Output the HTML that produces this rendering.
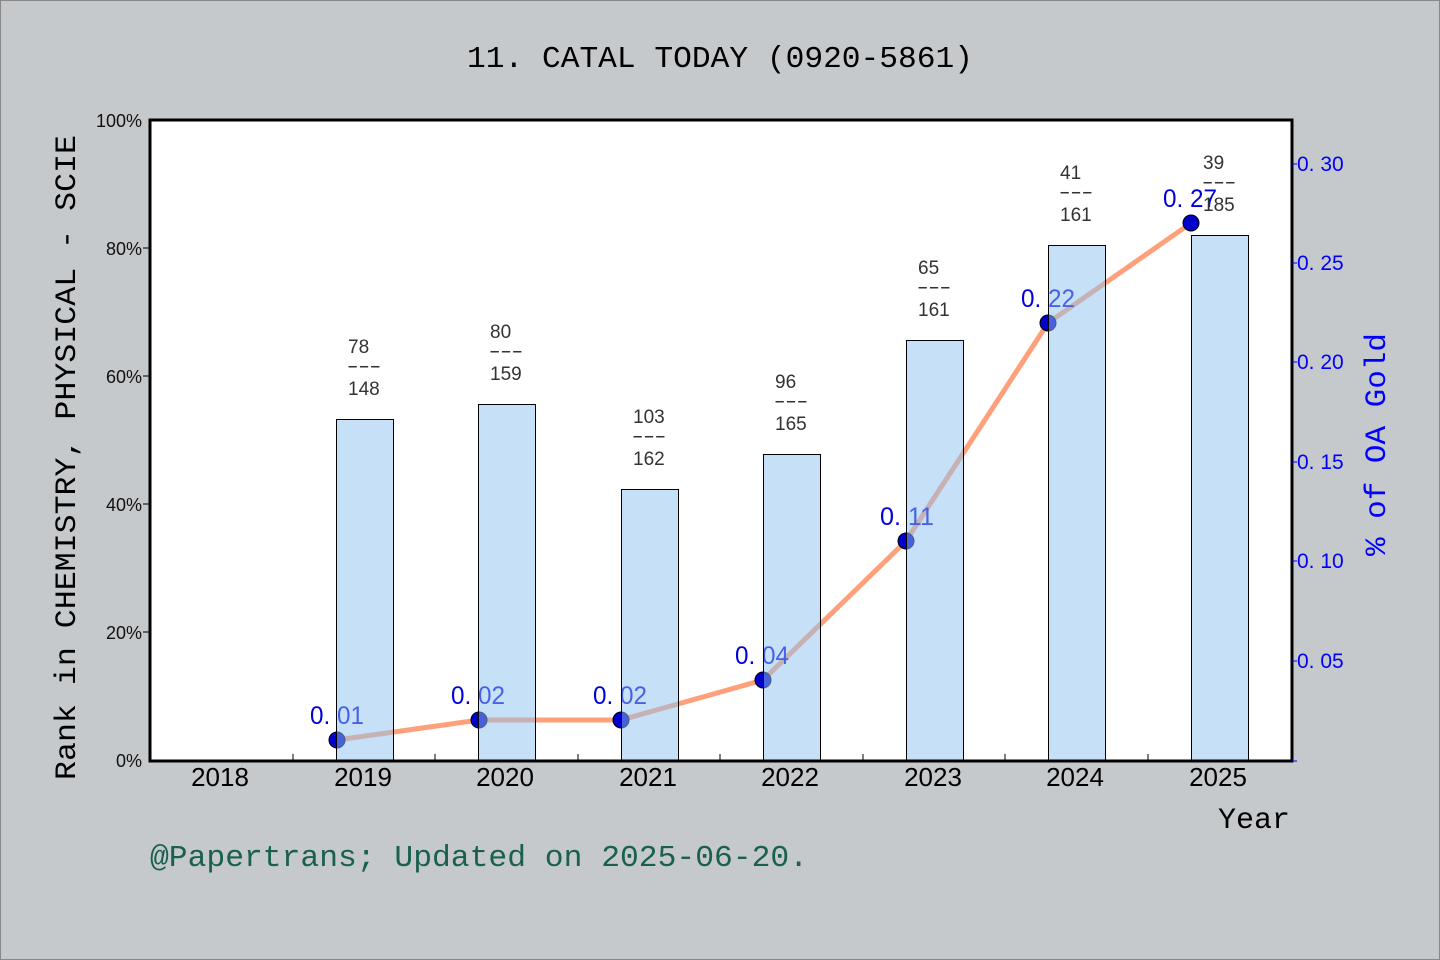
<!DOCTYPE html>
<html><head><meta charset="utf-8"><style>
html,body{margin:0;padding:0;background:#c5c9cc;}
svg{display:block}
text{font-family:"Liberation Mono",monospace;}
.s{font-family:"Liberation Sans",sans-serif;}
</style></head><body>
<svg width="1440" height="960" viewBox="0 0 1440 960" xmlns="http://www.w3.org/2000/svg">
<rect x="0.5" y="0.5" width="1439" height="959" fill="#c5c9cc" stroke="#888" stroke-width="1"/>
<text x="467" y="67" font-size="31" textLength="506" lengthAdjust="spacingAndGlyphs">11. CATAL TODAY (0920-5861)</text>
<rect x="150" y="120" width="1142" height="641" fill="#fff"/>
<polyline points="337,740 479,720 621,720 763,680 906,541 1048,323 1191,223" fill="none" stroke="#ffa07a" stroke-width="5"/>
<g fill="#0000cc" stroke="#000" stroke-width="1">
<circle cx="337" cy="740" r="8"/><circle cx="479" cy="720" r="8"/><circle cx="621" cy="720" r="8"/><circle cx="763" cy="680" r="8"/><circle cx="906" cy="541" r="8"/><circle cx="1048" cy="323" r="8"/><circle cx="1191" cy="223" r="8"/>
</g>
<g fill="#0000dd" font-size="25">
<text class="s" x="310" y="724" textLength="54" lengthAdjust="spacingAndGlyphs">0. 01</text>
<text class="s" x="451" y="704" textLength="54" lengthAdjust="spacingAndGlyphs">0. 02</text>
<text class="s" x="593" y="704" textLength="54" lengthAdjust="spacingAndGlyphs">0. 02</text>
<text class="s" x="735" y="664" textLength="54" lengthAdjust="spacingAndGlyphs">0. 04</text>
<text class="s" x="880" y="525" textLength="54" lengthAdjust="spacingAndGlyphs">0. 11</text>
<text class="s" x="1021" y="307" textLength="54" lengthAdjust="spacingAndGlyphs">0. 22</text>
<text class="s" x="1163" y="207" textLength="54" lengthAdjust="spacingAndGlyphs">0. 27</text>
</g>
<g fill="#8ec1ef" fill-opacity="0.5" stroke="#000" stroke-width="1">
<rect x="336.5" y="419.5" width="57" height="341"/>
<rect x="478.5" y="404.5" width="57" height="356"/>
<rect x="621.5" y="489.5" width="57" height="271"/>
<rect x="763.5" y="454.5" width="57" height="306"/>
<rect x="906.5" y="340.5" width="57" height="420"/>
<rect x="1048.5" y="245.5" width="57" height="515"/>
<rect x="1191.5" y="235.5" width="57" height="525"/>
</g>
<g fill="#333" font-size="19">
<text class="s" x="348" y="353">78</text><text class="s" x="347" y="372" textLength="34" lengthAdjust="spacingAndGlyphs">---</text><text class="s" x="348" y="395">148</text>
<text class="s" x="490" y="338">80</text><text class="s" x="489" y="357" textLength="34" lengthAdjust="spacingAndGlyphs">---</text><text class="s" x="490" y="380">159</text>
<text class="s" x="633" y="423">103</text><text class="s" x="632" y="442" textLength="34" lengthAdjust="spacingAndGlyphs">---</text><text class="s" x="633" y="465">162</text>
<text class="s" x="775" y="388">96</text><text class="s" x="774" y="407" textLength="34" lengthAdjust="spacingAndGlyphs">---</text><text class="s" x="775" y="430">165</text>
<text class="s" x="918" y="274">65</text><text class="s" x="917" y="293" textLength="34" lengthAdjust="spacingAndGlyphs">---</text><text class="s" x="918" y="316">161</text>
<text class="s" x="1060" y="179">41</text><text class="s" x="1059" y="198" textLength="34" lengthAdjust="spacingAndGlyphs">---</text><text class="s" x="1060" y="221">161</text>
<text class="s" x="1203" y="169">39</text><text class="s" x="1202" y="188" textLength="34" lengthAdjust="spacingAndGlyphs">---</text><text class="s" x="1203" y="211">185</text>
</g>
<rect x="150" y="120" width="1142" height="641" fill="none" stroke="#000" stroke-width="3"/>
<g stroke="#000" stroke-width="1">
<line x1="143" y1="248" x2="150" y2="248"/><line x1="143" y1="376" x2="150" y2="376"/><line x1="143" y1="504" x2="150" y2="504"/><line x1="143" y1="632" x2="150" y2="632"/>
<line x1="293" y1="754" x2="293" y2="761"/><line x1="435" y1="754" x2="435" y2="761"/><line x1="578" y1="754" x2="578" y2="761"/><line x1="720" y1="754" x2="720" y2="761"/><line x1="863" y1="754" x2="863" y2="761"/><line x1="1005" y1="754" x2="1005" y2="761"/><line x1="1148" y1="754" x2="1148" y2="761"/>
</g>
<g stroke="#0000ff" stroke-width="1">
<line x1="1292" y1="164" x2="1297" y2="164"/><line x1="1292" y1="263" x2="1297" y2="263"/><line x1="1292" y1="362" x2="1297" y2="362"/><line x1="1292" y1="462" x2="1297" y2="462"/><line x1="1292" y1="561" x2="1297" y2="561"/><line x1="1292" y1="661" x2="1297" y2="661"/><line x1="1292" y1="761" x2="1297" y2="761"/>
</g>
<g font-size="18" fill="#111" text-anchor="end">
<text class="s" x="142" y="127">100%</text><text class="s" x="142" y="255">80%</text><text class="s" x="142" y="383">60%</text><text class="s" x="142" y="511">40%</text><text class="s" x="142" y="639">20%</text><text class="s" x="142" y="767">0%</text>
</g>
<g font-size="21" fill="#0000ff">
<text class="s" x="1297" y="171">0. 30</text><text class="s" x="1297" y="270">0. 25</text><text class="s" x="1297" y="369">0. 20</text><text class="s" x="1297" y="469">0. 15</text><text class="s" x="1297" y="568">0. 10</text><text class="s" x="1297" y="668">0. 05</text>
</g>
<g font-size="26" fill="#000" text-anchor="middle">
<text class="s" x="220" y="786">2018</text><text class="s" x="363" y="786">2019</text><text class="s" x="505" y="786">2020</text><text class="s" x="648" y="786">2021</text><text class="s" x="790" y="786">2022</text><text class="s" x="933" y="786">2023</text><text class="s" x="1075" y="786">2024</text><text class="s" x="1218" y="786">2025</text>
</g>
<text x="1218" y="828" font-size="30" textLength="72" lengthAdjust="spacingAndGlyphs">Year</text>
<text transform="translate(75,780) rotate(-90)" font-size="30" textLength="645" lengthAdjust="spacingAndGlyphs">Rank in CHEMISTRY, PHYSICAL - SCIE</text>
<text transform="translate(1385,556) rotate(-90)" font-size="30" fill="#0000ff" textLength="223" lengthAdjust="spacingAndGlyphs">% of OA Gold</text>
<text x="150" y="866" font-size="31" fill="#1a6050" textLength="658" lengthAdjust="spacingAndGlyphs">@Papertrans; Updated on 2025-06-20.</text>
</svg>
</body></html>
